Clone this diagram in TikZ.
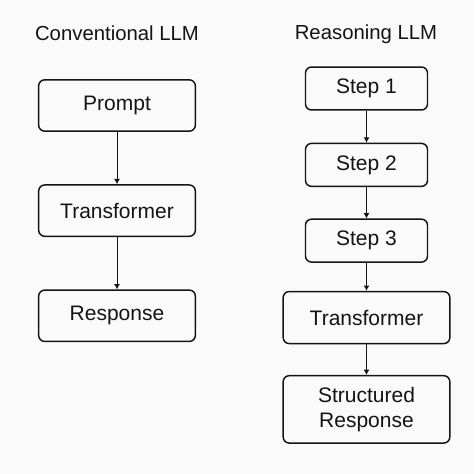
\documentclass[tikz,border=0pt]{standalone}
\usepackage{fontspec}
\setmainfont{Liberation Sans}
\usepackage{tikz}
\usetikzlibrary{arrows.meta, positioning}
\definecolor{myink}{RGB}{20,20,20}
\definecolor{mybg}{RGB}{250,250,250}

\begin{document}
\begin{tikzpicture}[x=0.75pt,y=-0.75pt,
    box/.style={draw=myink,line width=1.1pt,rounded corners=4.5pt,text=myink,font=\fontsize{15.75}{18.5}\selectfont,align=center,inner sep=0pt},
    lbox/.style={box,minimum width=117.5pt,minimum height=38.5pt},
    sbox/.style={box,minimum width=91.5pt,minimum height=32.2pt},
    wbox/.style={box,minimum width=125pt,minimum height=39pt},
    title/.style={text=myink,font=\fontsize{15.25}{18}\selectfont},
    flow/.style={-{Latex[length=4pt,width=4.5pt]},line width=0.75pt,myink}]
    \fill[mybg] (0,0) rectangle (474,474);
    \useasboundingbox (0,0) rectangle (474,474);
    % titles
    \node[title] (tl) at (117,33) {Conventional LLM};
    \node[title] (tr) at (366,34) {Reasoning LLM};
    % conventional column
    \node[lbox] (prompt) at (117,105.5) {Prompt};
    \node[lbox,below=39.25pt of prompt] (transl) {Transformer};
    \node[lbox,below=39.25pt of transl] (respl) {Response};
    % reasoning column
    \node[sbox] (step1) at (366.5,88.5) {Step 1};
    \node[sbox,below=24pt of step1] (step2) {Step 2};
    \node[sbox,below=23.5pt of step2] (step3) {Step 3};
    \node[wbox,below=21pt of step3] (transr) {Transformer};
    \node[wbox,minimum height=50.5pt,below=23pt of transr] (respr) {Structured\\Response};
    \foreach \a/\b in {prompt/transl,transl/respl,step1/step2,step2/step3,step3/transr,transr/respr} {
        \draw[flow] (\a.south) -- (\b.north);
    }
\end{tikzpicture}
\end{document}
